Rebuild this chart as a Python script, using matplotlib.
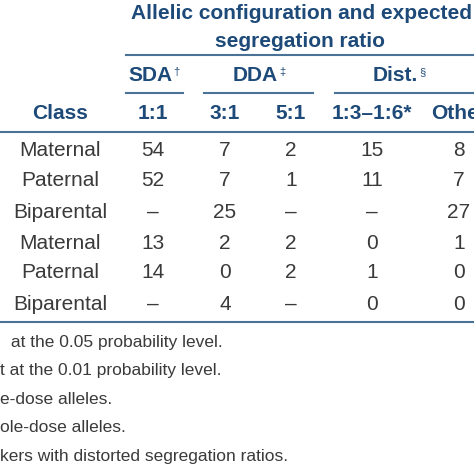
import matplotlib.pyplot as plt
from matplotlib.lines import Line2D

plt.rcParams['font.family'] = ['Liberation Sans', 'DejaVu Sans']

#%% - table data
classes = ['Maternal', 'Paternal', 'Biparental', 'Maternal', 'Paternal', 'Biparental']
col_heads = ['1:1', '3:1', '5:1', '1:3\u20131:6*', 'Other']
values = [['54', '7', '2', '15', '8'],
          ['52', '7', '1', '11', '7'],
          ['\u2013', '25', '\u2013', '\u2013', '27'],
          ['13', '2', '2', '0', '1'],
          ['14', '0', '2', '1', '0'],
          ['\u2013', '4', '\u2013', '0', '0']]
groups = ['SDA', 'DDA', 'Dist.']
group_marks = ['\u2020', '\u2021', '\u00a7']
footnotes = [' at the 0.05 probability level.',
             't at the 0.01 probability level.',
             'e-dose alleles.',
             'ole-dose alleles.',
             'kers with distorted segregation ratios.']

#%% - layout (pixel coords)
blue = '#1d4a78'
line_c = '#4a7196'
txt = '#3a3a3a'
col_x = [153, 225, 291, 372, 459]
row_y = [150, 181, 212, 243, 273, 304]
grp_x = [150, 255, 395]
grp_span = [(126, 183), (204, 313), (335, 480)]
foot_x = [6, 0, 0, 0, 0]
foot_y = [343, 371, 399, 427, 456]

fig = plt.figure(figsize=(4.74, 4.74), dpi=100)
ax = fig.add_axes([0, 0, 1, 1])
ax.set_xlim(0, 474)
ax.set_ylim(474, 0)
ax.axis('off')

fs = 15
ax.text(131, 13, 'Allelic configuration and expected', color=blue, fontsize=fs,
        fontweight='bold', ha='left', va='center')
ax.text(300, 41, 'segregation ratio', color=blue, fontsize=fs,
        fontweight='bold', ha='center', va='center')
ax.add_line(Line2D([126, 474], [55, 55], color=line_c, lw=1.5))

for g, m, gx, (a, b) in zip(groups, group_marks, grp_x, grp_span):
    t = ax.text(gx, 75, g, color=blue, fontsize=fs, fontweight='bold', ha='center', va='center')
    ax.annotate(m, xy=(1, 1), xycoords=t, xytext=(1, -1), textcoords='offset points',
                color=blue, fontsize=8, ha='left', va='top')
    ax.add_line(Line2D([a, b], [93, 93], color=line_c, lw=1.5))

ax.text(60, 113, 'Class', color=blue, fontsize=fs, fontweight='bold', ha='center', va='center')
for h, cx in zip(col_heads, col_x):
    ax.text(cx, 113, h, color=blue, fontsize=fs, fontweight='bold', ha='center', va='center')
ax.add_line(Line2D([0, 474], [132, 132], color=line_c, lw=1.5))

for c, ry, vals in zip(classes, row_y, values):
    ax.text(60, ry, c, color=txt, fontsize=fs, ha='center', va='center')
    for v, cx in zip(vals, col_x):
        ax.text(cx, ry, v, color=txt, fontsize=fs, ha='center', va='center')
ax.add_line(Line2D([0, 474], [322, 322], color=line_c, lw=1.5))

for f, fx, fy in zip(footnotes, foot_x, foot_y):
    ax.text(fx, fy, f, color=txt, fontsize=12.5, ha='left', va='center')

fig.savefig('out.png', dpi=100)
